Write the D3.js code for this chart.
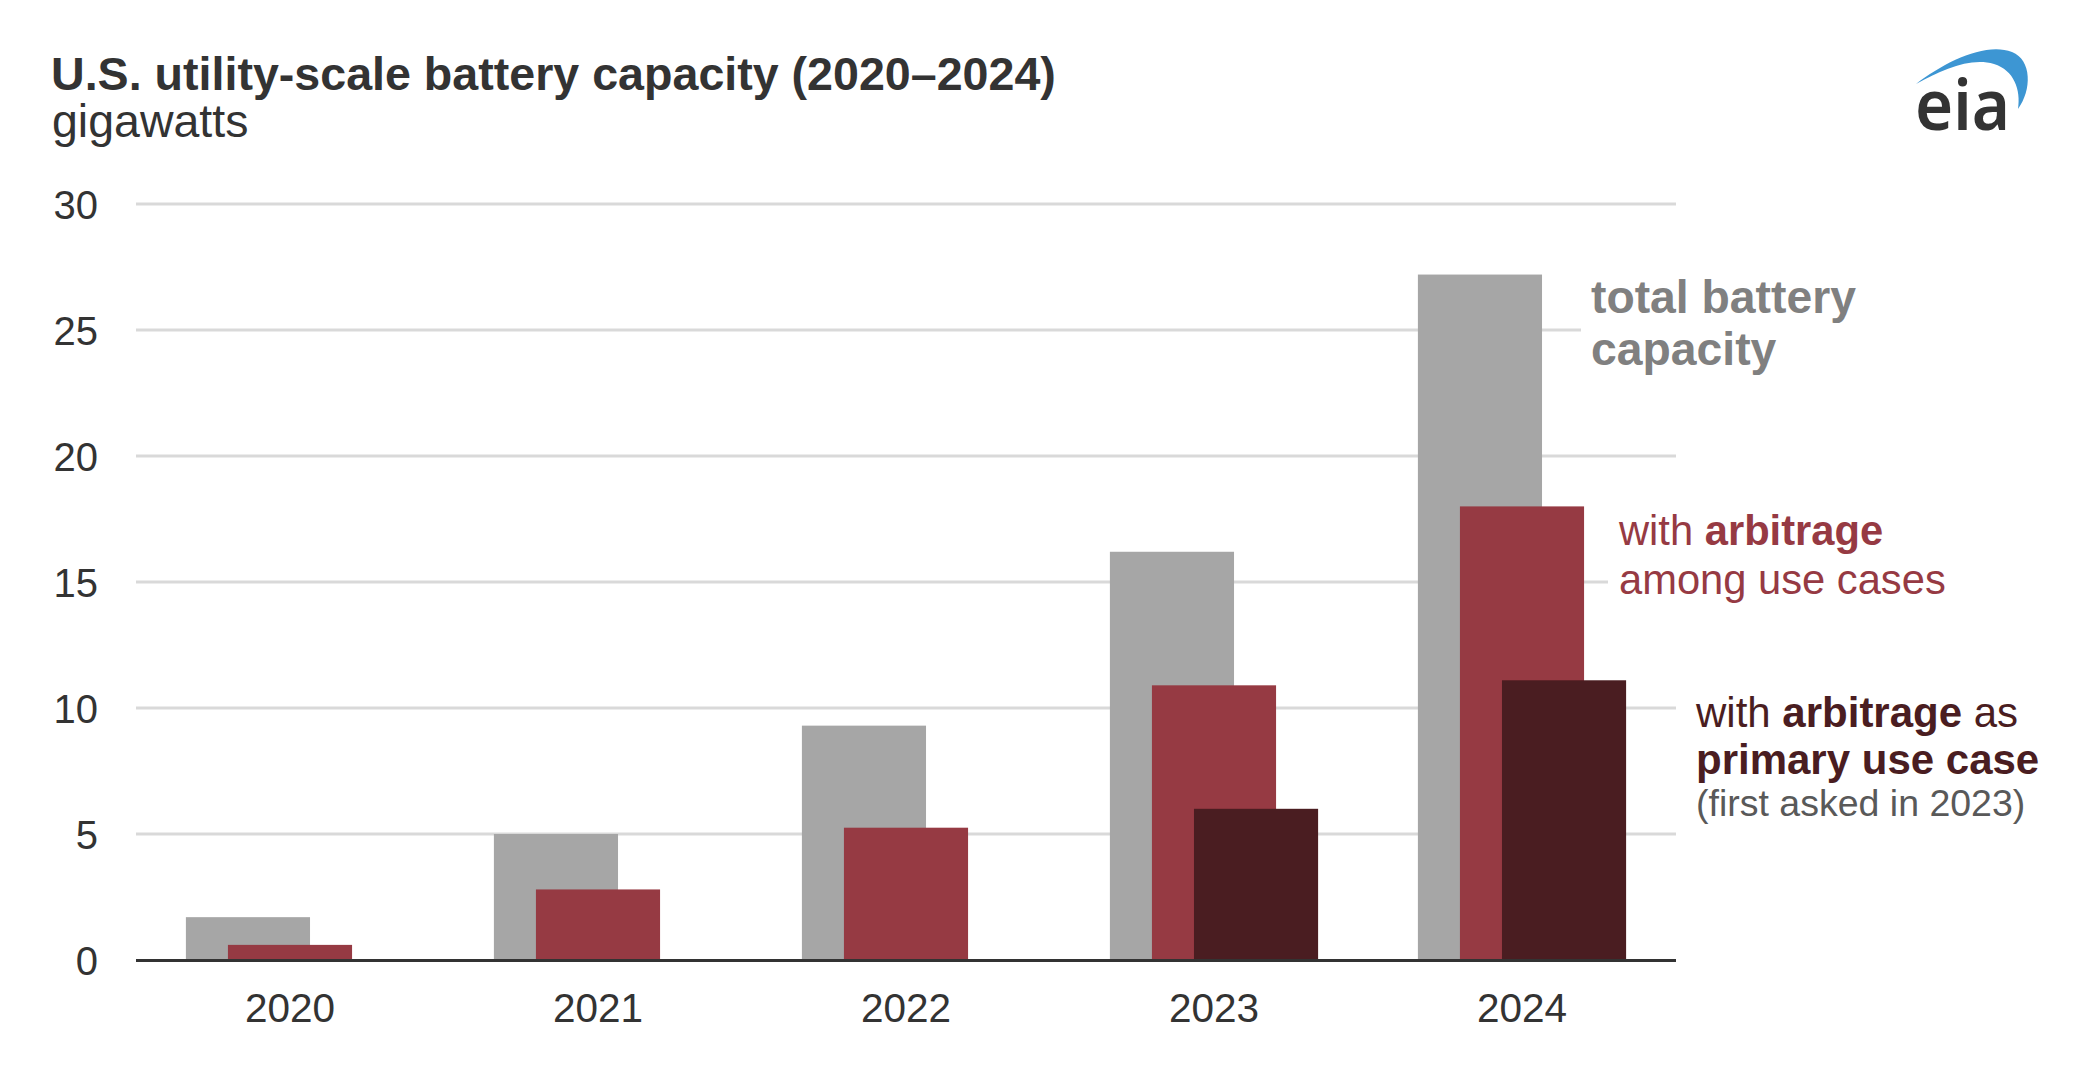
<!DOCTYPE html>
<html>
<head>
<meta charset="utf-8">
<script src="https://cdn.jsdelivr.net/npm/d3@7"></script>
<style>
  html, body { margin: 0; padding: 0; background: #ffffff; }
  svg { display: block; font-family: "Liberation Sans", Arial, sans-serif; }
</style>
</head>
<body>
<svg id="chart" width="2089" height="1066"></svg>
<script>
// ---- data ----
const years = ["2020", "2021", "2022", "2023", "2024"];
const totalCapacity = [1.7, 5.0, 9.3, 16.2, 27.2];
const arbitrageAmong = [0.6, 2.8, 5.25, 10.9, 18.0];
const arbitragePrimary = [null, null, null, 6.0, 11.1];
const yTicks = [0, 5, 10, 15, 20, 25, 30];
const seriesNames = ["total battery capacity", "with arbitrage among use cases", "with arbitrage as primary use case"];
const seriesColors = ["#a6a6a6", "#963a43", "#4a1d21"];

const svg = d3.select("#chart");
const plot = { left: 136, right: 1676, top: 204, bottom: 960 };

const x = d3.scaleBand().domain(years).range([plot.left, plot.right]);
const y = d3.scaleLinear().domain([0, 30]).range([plot.bottom, plot.top]);
const bw = x.bandwidth();
const barW = bw * 0.403;
const shift = bw * 0.1365;

// ---- title ----
svg.append("text").attr("x", 51).attr("y", 90)
  .attr("font-size", 46.6).attr("font-weight", "bold").attr("fill", "#333333")
  .text("U.S. utility-scale battery capacity (2020\u20132024)");
svg.append("text").attr("x", 52).attr("y", 137)
  .attr("font-size", 46.5).attr("fill", "#333333")
  .text("gigawatts");

// ---- eia logo ----
const logo = svg.append("g");
logo.append("path")
  .attr("d", "M1916,84 C1945,62 1985,42 2012,52 C2032,60 2032,90 2018,109 C2021,90 2014,70 1994,64 C1970,57 1942,70 1916,84 Z")
  .attr("fill", "#3d96d3");
logo.append("text").attr("x", 1915).attr("y", 130)
  .attr("font-family", "'Noto Sans', sans-serif").attr("font-weight", 600)
  .attr("font-size", 70).attr("fill", "#333333")
  .attr("textLength", 95).attr("lengthAdjust", "spacingAndGlyphs")
  .text("eia");

// ---- series labels (drawn first to measure for gridline gaps) ----
const labels = svg.append("g");
const lab1 = labels.append("text").attr("font-size", 46.3).attr("font-weight", "bold").attr("fill", "#808080");
lab1.append("tspan").attr("x", 1591).attr("y", 313).text("total battery");
lab1.append("tspan").attr("x", 1591).attr("y", 365).text("capacity");

const lab2 = labels.append("text").attr("font-size", 41.7).attr("fill", "#963a43");
const l2a = lab2.append("tspan").attr("x", 1619).attr("y", 545);
l2a.append("tspan").text("with ");
l2a.append("tspan").attr("font-weight", "bold").text("arbitrage");
lab2.append("tspan").attr("x", 1619).attr("y", 594).text("among use cases");

const lab3 = labels.append("text").attr("font-size", 42).attr("fill", "#4a1d21");
const l3a = lab3.append("tspan").attr("x", 1696).attr("y", 727);
l3a.append("tspan").text("with ");
l3a.append("tspan").attr("font-weight", "bold").text("arbitrage");
l3a.append("tspan").text(" as");
lab3.append("tspan").attr("x", 1696).attr("y", 774).attr("font-weight", "bold").text("primary use case");
lab3.append("tspan").attr("x", 1696).attr("y", 816).attr("font-size", 37.5).attr("fill", "#595959").text("(first asked in 2023)");

const boxes = [lab1, lab2, lab3].map(t => t.node().getBBox());

// ---- gridlines ----
const grid = svg.insert("g", ":first-child");
yTicks.filter(v => v > 0).forEach(v => {
  const gy = y(v);
  let x2 = plot.right;
  boxes.forEach(b => {
    if (gy >= b.y && gy <= b.y + b.height && b.x - 10 < x2) x2 = b.x - 10;
  });
  grid.append("line")
    .attr("x1", plot.left).attr("x2", x2)
    .attr("y1", gy).attr("y2", gy)
    .attr("stroke", "#d9d9d9").attr("stroke-width", 3);
});

// ---- bars ----
const seriesData = [totalCapacity, arbitrageAmong, arbitragePrimary];
const barsG = svg.append("g");
seriesData.forEach((vals, k) => {
  barsG.append("g").selectAll("rect")
    .data(years.map((yr, i) => ({ yr, v: vals[i] })).filter(d => d.v != null))
    .join("rect")
    .attr("x", d => x(d.yr) + bw / 2 - barW / 2 - shift + k * shift)
    .attr("y", d => y(d.v))
    .attr("width", barW)
    .attr("height", d => y(0) - y(d.v))
    .attr("fill", seriesColors[k]);
});

// ---- baseline ----
svg.append("line")
  .attr("x1", plot.left).attr("x2", plot.right)
  .attr("y1", y(0) + 0.5).attr("y2", y(0) + 0.5)
  .attr("stroke", "#333333").attr("stroke-width", 3);

// ---- axes ----
const yAxis = svg.append("g").attr("transform", `translate(${plot.left},0)`)
  .call(d3.axisLeft(y).tickValues(yTicks).tickSize(0).tickPadding(38).tickFormat(d3.format("d")));
yAxis.select(".domain").remove();
yAxis.selectAll("text").attr("font-size", 40).attr("fill", "#333333")
  .attr("font-family", "'Liberation Sans', Arial, sans-serif").attr("dy", "0.35em");

const xAxis = svg.append("g").attr("transform", `translate(0,${plot.bottom})`)
  .call(d3.axisBottom(x).tickSize(0).tickPadding(33));
xAxis.select(".domain").remove();
xAxis.selectAll("text").attr("font-size", 40.5).attr("fill", "#333333")
  .attr("font-family", "'Liberation Sans', Arial, sans-serif");
</script>
</body>
</html>
